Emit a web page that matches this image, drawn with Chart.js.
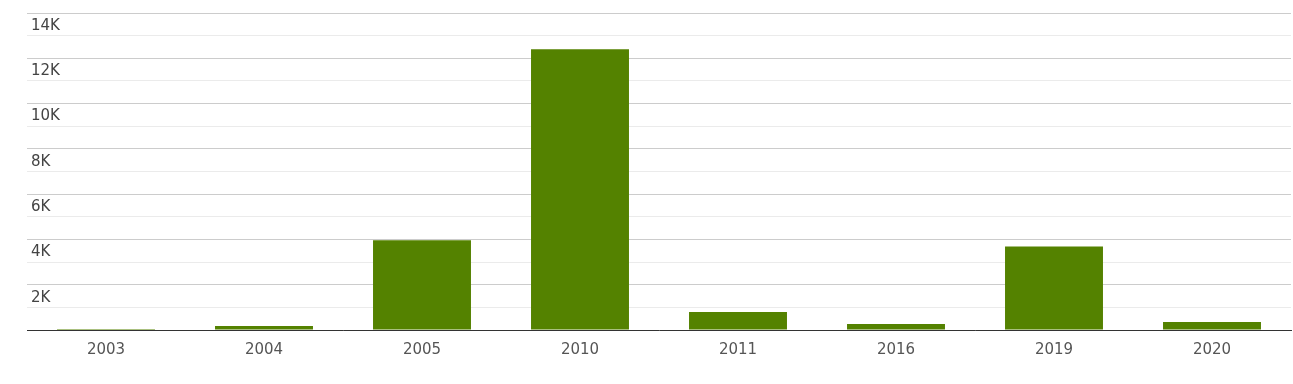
<!DOCTYPE html>
<html>
<head>
<meta charset="utf-8">
<script src="https://cdn.jsdelivr.net/npm/chart.js@4.4.0/dist/chart.umd.min.js"></script>
<style>
html,body{margin:0;padding:0;background:#fff;}
#wrap{width:1293px;height:384px;position:relative;}
</style>
</head>
<body>
<div id="wrap"><canvas id="c"></canvas></div>
<script>
const categories = ['2003','2004','2005','2010','2011','2016','2019','2020'];
const values = [40, 175, 3960, 12400, 790, 265, 3690, 350];
const yMax = 14000;
const yStep = 1000;

new Chart(document.getElementById('c'), {
  type: 'bar',
  data: {
    labels: categories,
    datasets: [{
      data: values,
      backgroundColor: '#548200',
      borderWidth: 0,
      categoryPercentage: 1,
      barPercentage: 0.62
    }]
  },
  options: {
    responsive: true,
    maintainAspectRatio: false,
    animation: false,
    layout: { padding: { left: 27, right: 2, top: 12, bottom: 22 } },
    plugins: { legend: { display: false }, tooltip: { enabled: false } },
    scales: {
      x: {
        grid: { display: false },
        border: { display: true, color: '#333', width: 1 },
        ticks: { color: '#555', font: { family: 'DejaVu Sans', size: 15 }, padding: 3 }
      },
      y: {
        min: 0, max: yMax,
        afterFit: s => { s.width = 0; },
        border: { display: false },
        grid: {
          drawTicks: false,
          color: c => (c.tick && c.tick.value % 2000 === 0) ? '#cccccc' : '#ebebeb',
          lineWidth: 1
        },
        ticks: {
          stepSize: yStep,
          mirror: true,
          padding: 4,
          labelOffset: 13,
          color: '#444',
          font: { family: 'DejaVu Sans', size: 15 },
          callback: v => (v > 0 && v % 2000 === 0) ? (v / 1000) + 'K' : ''
        }
      }
    }
  }
});
</script>
</body>
</html>
